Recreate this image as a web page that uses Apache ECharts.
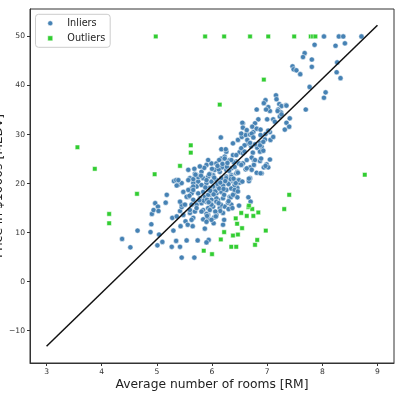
<!DOCTYPE html>
<html>
<head>
<meta charset="utf-8">
<script src="https://cdn.jsdelivr.net/npm/echarts@6/dist/echarts.min.js"></script>
<style>html,body{margin:0;padding:0;background:#fff}#c{width:400px;height:400px}</style>
</head>
<body>
<div id="c"></div>
<script>
// Inliers (RM, MEDV)
var inlierRM = [4.37,4.52,4.65,4.885,4.90,4.91,4.94,4.97,5.02,5.03,5.04,5.01,5.10,5.16,5.18,5.28,5.30,5.27,5.35,5.42,5.45,5.42,5.45,5.45,5.43,5.52,5.54,5.68,5.74,5.56,5.60,5.66,5.63,5.65,5.87,5.94,5.90,5.31,5.39,5.45,5.36,5.35,5.57,5.68,5.72,5.72,5.63,5.57,
5.60,5.69,5.81,5.90,5.99,5.93,6.08,6.17,6.23,6.26,6.38,6.44,6.35,6.26,6.14,6.05,6.02,5.93,5.84,5.75,5.66,5.72,5.81,5.90,5.99,6.08,6.17,6.26,6.35,6.44,6.47,6.38,6.29,6.20,6.11,6.02,5.93,5.84,5.75,5.63,5.54,5.66,5.78,5.87,5.96,6.08,6.17,6.26,6.35,6.44,5.72,5.81,5.90,5.99,6.11,6.20,6.32,6.41,5.60,5.69,5.84,5.93,6.02,6.14,6.23,6.35,5.93,6.08,6.20,5.48,5.36,5.51,5.57,5.48,5.42,
6.16,6.17,6.25,6.50,6.38,6.47,6.56,6.63,6.54,6.58,6.13,6.23,6.32,6.40,6.18,6.27,5.96,5.75,5.66,5.57,5.39,5.90,6.26,6.35,6.46,6.41,6.02,5.66,
6.66,6.70,6.50,6.40,6.46,6.03,6.20,6.22,6.04,5.93,5.90,5.81,6.15,6.06,6.30,6.37,6.49,6.29,6.16,5.97,5.85,6.08,6.22,6.34,6.46,6.41,6.30,6.20,6.10,5.96,5.93,6.49,6.67,
7.05,6.97,6.96,6.87,6.82,6.90,6.71,6.66,6.61,6.69,6.75,6.56,6.44,6.35,6.41,6.49,6.56,6.61,6.69,6.76,6.76,6.87,7.05,6.94,6.81,6.90,6.69,6.47,6.34,6.43,6.41,6.47,6.38,
7.77,8.06,8.03,7.70,7.41,7.35,7.32,7.40,7.16,7.17,6.97,6.94,7.22,7.26,7.34,7.20,7.25,7.23,7.05,7.02,6.98,6.81,6.84,7.00,7.11,7.14,6.78,6.73,6.81,6.88,6.55,6.56,6.63,6.53,6.72,6.75,6.64,6.69,6.78,6.87,6.93,7.06,7.11,6.88,7.02,6.59,6.53,6.59,6.74,6.87,6.93,6.72,6.63,6.78,6.99,7.02,6.53,6.63,6.72,6.67,6.55,
7.86,8.24,8.41,7.68,7.65,7.81,7.81,8.27,8.26,8.33,7.46,7.48,7.53,7.60,7.35,7.19,7.26,6.89,6.97,6.88,8.03,8.30,8.38,8.71,
5.84,5.91,5.99,6.07,5.96,5.59,5.66,5.91,5.99,6.08,5.77,5.72,5.63,5.90,
5.95,6.04,6.12,5.86,5.78,6.00,6.10,6.19,6.28,5.88,5.97,6.06,6.15,6.24,5.80,5.70,6.31,6.39,6.13,6.21,6.03,5.94,6.12,6.30];
var inlierMEDV = [8.7,7.0,10.4,10.1,11.7,13.8,14.6,16.0,15.3,14.4,9.6,7.4,8.1,16.1,17.7,13.0,10.4,7.1,8.3,7.1,4.9,14.4,15.2,15.7,11.3,12.3,8.4,4.9,8.4,11.6,14.0,13.0,12.6,11.3,10.8,8.5,8.0,20.5,19.8,20.1,19.6,20.7,22.8,23.0,21.7,20.1,19.0,17.3,
21.1,22.0,22.4,23.8,24.1,24.8,24.1,25.1,25.5,26.5,25.8,24.5,23.1,22.8,22.4,22.8,21.7,21.4,21.1,20.4,20.1,19.4,19.7,20.1,20.4,20.7,21.1,21.4,21.7,22.1,20.7,20.4,20.1,19.7,19.4,19.0,18.8,18.3,18.0,18.0,17.3,16.7,17.0,17.3,17.7,18.0,18.3,18.7,19.0,19.4,15.7,16.0,16.3,16.7,16.7,17.0,17.3,17.7,14.6,14.3,14.6,15.0,15.3,15.0,15.3,15.7,13.6,13.6,14.0,13.6,13.3,15.7,18.7,18.3,16.3,
29.4,27.0,27.0,26.4,28.2,28.9,32.3,30.2,29.5,26.5,24.8,25.1,24.8,24.3,23.3,23.4,22.0,21.3,20.9,20.7,20.7,20.7,21.1,21.4,22.4,20.1,19.4,19.4,
17.2,16.3,20.2,18.0,19.1,11.9,11.6,12.6,13.1,12.8,13.8,14.3,14.4,14.3,14.8,15.0,15.5,16.1,15.7,16.0,16.5,17.0,17.7,17.2,17.2,19.7,19.9,19.6,19.9,19.1,17.7,20.7,20.5,
30.5,30.1,29.0,28.3,27.3,27.5,27.6,28.2,29.9,30.0,30.5,26.2,25.8,24.8,23.4,24.1,24.1,22.9,23.3,23.8,24.8,24.6,24.9,23.3,22.2,22.1,21.1,22.2,20.9,20.1,18.7,18.4,17.7,
39.7,38.6,37.5,35.1,33.3,32.4,31.0,31.6,38.0,37.2,37.0,36.4,36.2,35.8,36.0,35.1,34.5,33.7,34.8,35.6,35.1,35.1,33.1,33.1,33.1,32.6,32.3,31.6,31.2,31.0,32.4,31.4,30.9,30.2,30.2,29.4,28.9,28.3,28.0,27.8,28.5,28.9,29.5,29.9,30.8,27.8,27.2,26.5,26.3,26.5,26.7,25.3,24.8,24.8,23.9,23.3,23.8,23.1,22.8,21.0,20.4,
48.3,48.1,48.6,46.6,45.8,45.3,43.8,44.7,42.7,41.5,43.9,43.3,43.1,42.3,35.9,34.8,34.1,25.1,23.6,22.1,50.0,50.0,50.0,50.0,
12.7,13.4,12.6,13.3,14.6,17.5,18.7,16.7,15.7,16.3,16.6,15.0,15.7,12.2,
21.9,21.2,22.9,23.2,23.5,23.0,23.6,24.0,24.2,19.2,18.5,18.4,20.2,20.5,21.6,21.8,22.6,21.0,19.0,18.9,17.8,16.2,16.0,16.4];

// Outliers (RM, MEDV)
var outlierRM = [4.98,3.56,3.875,4.96,4.64,5.42,5.615,5.615,5.875,6.22,6.69,7.02,7.49,7.79,7.83,7.875,6.94,6.14,8.77,7.40,4.135,4.135,7.31,6.66,6.73,6.84,6.53,6.63,6.75,6.43,6.455,6.545,6.975,6.22,6.38,6.47,6.16,6.82,6.78,6.35,6.44,5.85,6.00,6.67];
var outlierMEDV = [50.0,27.4,23.0,21.9,17.9,23.6,27.8,26.3,50.0,50.0,50.0,50.0,50.0,50.0,50.0,50.0,41.2,36.1,21.8,17.7,13.8,11.9,14.8,15.2,14.8,14.1,14.0,13.4,13.4,12.9,11.8,10.9,10.4,10.1,9.4,9.6,8.6,8.5,7.5,7.1,7.1,6.3,5.6,15.5];

// Fitted RANSAC line endpoints
var lineRM = [3, 9];
var lineMEDV = [-13.2, 52.3];

// Tick labels
var xTicks = [3, 4, 5, 6, 7, 8, 9];
var yTicks = [-10, 0, 10, 20, 30, 40, 50];

function zip(a, b) { return a.map(function (v, i) { return [v, b[i]]; }); }

var chart = echarts.init(document.getElementById('c'), null, {renderer: 'canvas'});
var tickColor = '#333';
var minus = function (v) { return String(v).replace('-', '\u2212'); };
chart.setOption({
  animation: false,
  backgroundColor: '#fff',
  grid: {left: 30, right: 6, top: 9, bottom: 37, containLabel: false, outerBoundsMode: 'none',
         show: true, borderColor: '#333', borderWidth: 1, backgroundColor: 'transparent'},
  legend: {
    orient: 'vertical', left: 35.5, top: 14.3,
    padding: [4, 5, 4, 12], itemGap: 5, itemWidth: 24, itemHeight: 5,
    borderColor: '#cccccc', borderWidth: 1, borderRadius: 3, backgroundColor: 'rgba(255,255,255,0.8)',
    textStyle: {fontFamily: 'DejaVu Sans', fontSize: 9.7, color: '#222', lineHeight: 10},
    data: [
      {name: 'Inliers', icon: 'circle', itemStyle: {color: '#4682b4', borderColor: '#fff', borderWidth: 0.5}},
      {name: 'Outliers', icon: 'path://M0 0H10V10H0Z', itemStyle: {color: '#32cd32', borderColor: '#fff', borderWidth: 0.5}}
    ]
  },
  xAxis: {
    type: 'value', min: 2.7, max: 9.3,
    name: 'Average number of rooms [RM]', nameLocation: 'middle', nameGap: 16, nameMoveOverlap: false,
    nameTextStyle: {fontFamily: 'DejaVu Sans', fontSize: 12.3, color: '#222'},
    axisLine: {show: true, onZero: false, lineStyle: {color: '#333', width: 1}},
    axisTick: {show: true, length: 3, inside: false, customValues: xTicks, lineStyle: {color: tickColor}},
    axisLabel: {customValues: xTicks, margin: 5, fontFamily: 'DejaVu Sans', fontSize: 7.6, color: '#333', formatter: minus},
    splitLine: {show: false}
  },
  yAxis: {
    type: 'value', min: -16.6, max: 55.6,
    name: 'Price in $1000s [MEDV]', nameLocation: 'middle', nameGap: 25, nameMoveOverlap: false,
    nameTextStyle: {fontFamily: 'DejaVu Sans', fontSize: 12.3, color: '#222'},
    axisLine: {show: true, onZero: false, lineStyle: {color: '#333', width: 1}},
    axisTick: {show: true, length: 3, inside: false, customValues: yTicks, lineStyle: {color: tickColor}},
    axisLabel: {customValues: yTicks, margin: 5, fontFamily: 'DejaVu Sans', fontSize: 7.6, color: '#333', formatter: minus},
    splitLine: {show: false}
  },
  series: [
    {
      name: 'Inliers', type: 'scatter', symbol: 'circle', symbolSize: 5.2,
      itemStyle: {color: '#4682b4', borderColor: '#ffffff', borderWidth: 0.5, opacity: 1},
      data: zip(inlierRM, inlierMEDV), z: 2
    },
    {
      name: 'Outliers', type: 'scatter', symbol: 'rect', symbolSize: 4.5,
      itemStyle: {color: '#32cd32', borderColor: '#ffffff', borderWidth: 0.5, opacity: 1},
      data: zip(outlierRM, outlierMEDV), z: 3
    },
    {
      name: 'Fit', type: 'line', showSymbol: false, symbol: 'none',
      lineStyle: {color: '#111', width: 1.5},
      data: zip(lineRM, lineMEDV), z: 4
    }
  ]
});
</script>
</body>
</html>
